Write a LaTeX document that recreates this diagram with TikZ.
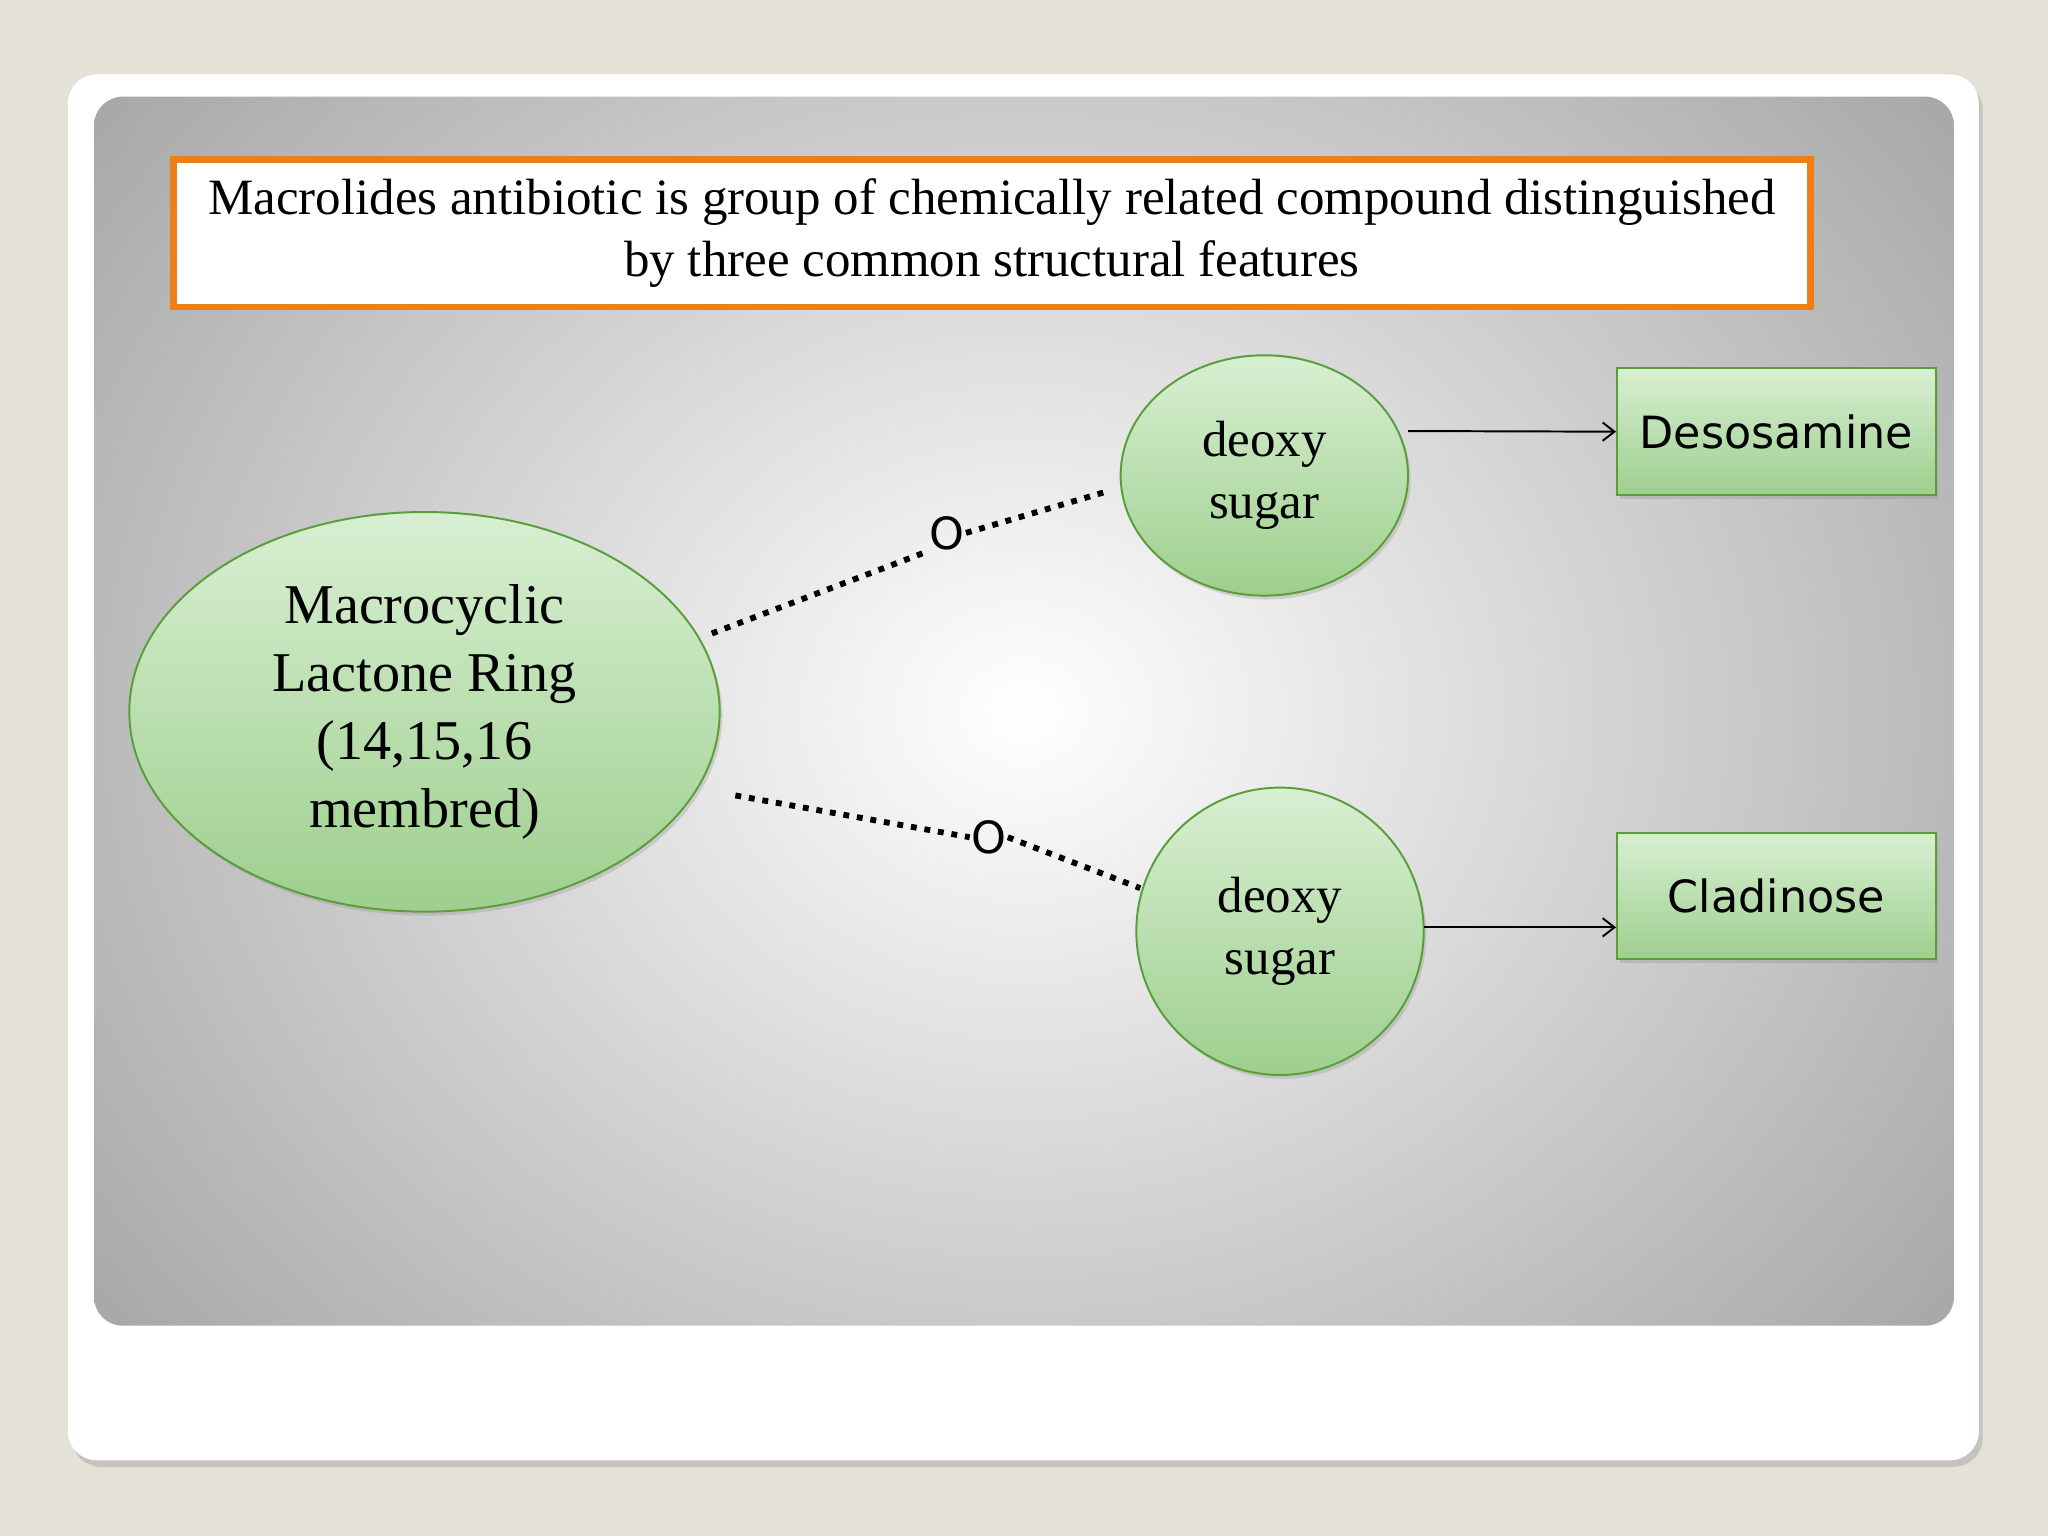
\documentclass[tikz,border=0pt]{standalone}
\usepackage{fontspec}
\setmainfont{Liberation Serif}
\newfontfamily\sansf{DejaVu Sans}
\usetikzlibrary{shapes.geometric,shadows,arrows.meta}
\definecolor{bgbeige}{HTML}{E4E1D6}
\definecolor{orng}{HTML}{EE7F14}
\definecolor{gtop}{HTML}{D8EFD2}
\definecolor{gbot}{HTML}{9ECF8E}
\definecolor{gline}{HTML}{5A9E3A}
\definecolor{panelgray}{HTML}{A4A4A4}
\tikzset{
  greenfill/.style={top color=gtop,bottom color=gbot,draw=gline,line width=1.5pt,
    drop shadow={opacity=0.25,shadow xshift=2pt,shadow yshift=-3pt}},
  termbox/.style={greenfill,rectangle,minimum width=244pt,minimum height=97pt,
    inner sep=0pt,font=\sansf\fontsize{34}{40}\selectfont},
  dotline/.style={line width=4.5pt,dash pattern=on 4.5pt off 6pt},
  arr/.style={-{Straight Barb[length=9pt,width=14pt]},line width=1.5pt}
}
\begin{document}
\begin{tikzpicture}[x=1pt,y=-1pt]
\fill[bgbeige] (0,0) rectangle (1568,1176);
\useasboundingbox (0,0) rectangle (1568,1176);
\fill[white,drop shadow={opacity=0.3,shadow xshift=3pt,shadow yshift=-5pt}] [rounded corners=22pt] (52,57) rectangle (1515,1118);
\begin{scope}
\clip[rounded corners=22pt] (72,74) rectangle (1496,1015);
\shade[inner color=white,outer color=panelgray] (-150,-250) rectangle (1718,1339);
\end{scope}
\node[draw=orng,line width=5pt,fill=white,minimum width=1253pt,minimum height=113pt,
  align=center,font=\fontsize{39}{47}\selectfont] (title) at (759.5,178.5)
  {\raisebox{-5pt}{\parbox{1240pt}{\centering Macrolides antibiotic is group of chemically related compound distinguished\\by three common structural features}}};
\node[greenfill,ellipse,minimum width=452pt,minimum height=306pt,inner sep=0pt,align=center,
  font=\fontsize{43}{52}\selectfont] (ring) at (325,545)
  {Macrocyclic\\Lactone Ring\\(14,15,16\\membred)};
\node[greenfill,ellipse,minimum width=220pt,minimum height=184pt,inner sep=0pt,align=center,
  font=\fontsize{39}{47}\selectfont] (s1) at (968,364) {deoxy\\sugar};
\node[greenfill,ellipse,minimum width=220pt,minimum height=220pt,inner sep=0pt,align=center,
  font=\fontsize{39}{47}\selectfont] (s2) at (980,713) {deoxy\\sugar};
\node[termbox] (deso) at (1360,330.5) {Desosamine};
\node[termbox] (clad) at (1360,686) {Cladinose};
\node[font=\sansf\fontsize{34}{40}\selectfont,inner sep=1pt] (o1) at (725,408) {O};
\node[font=\sansf\fontsize{34}{40}\selectfont,inner sep=1pt] (o2) at (757,641) {O};
\coordinate (a1) at (545,485);
\coordinate (b1) at (845,377);
\coordinate (a2) at (563,609);
\coordinate (b2) at (873,680);
\draw[dotline] (a1) -- (o1.south west);
\draw[dotline] (o1.east) -- (b1);
\draw[dotline] (a2) -- (o2.west);
\draw[dotline] (o2.east) -- (b2);
\draw[arr] (1078,330) -- (deso.west);
\draw[arr] (1090,710) -- (clad.west |- 0,710);
\end{tikzpicture}
\end{document}
